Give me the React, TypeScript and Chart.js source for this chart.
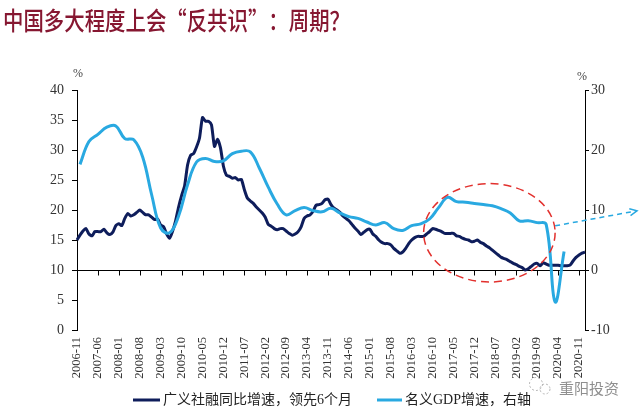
import React, { useEffect, useRef } from 'react';
import { Chart, registerables } from 'chart.js';

Chart.register(...registerables);

// ---------- data ----------
const TITLE = '中国多大程度上会“反共识”：周期？';
const SERIES_NAMES = ['广义社融同比增速，领先6个月', '名义GDP增速，右轴'];
const WATERMARK = '重阳投资';

// monthly categories 2006-11 .. 2021-01
const START_YEAR = 2006;
const START_MONTH = 11;
const MONTH_COUNT = 171;
const months: string[] = [];
for (let i = 0; i < MONTH_COUNT; i++) {
  const t = START_MONTH - 1 + i;
  const yy = START_YEAR + Math.floor(t / 12);
  const mm = (t % 12) + 1;
  months.push(`${yy}-${String(mm).padStart(2, '0')}`);
}

const tickLabels = [
  '2006-11', '2007-06', '2008-01', '2008-08', '2009-03', '2009-10', '2010-05',
  '2010-12', '2011-07', '2012-02', '2012-09', '2013-04', '2013-11', '2014-06',
  '2015-01', '2015-08', '2016-03', '2016-10', '2017-05', '2017-12', '2018-07',
  '2019-02', '2019-09', '2020-04', '2020-11',
];

// 广义社融同比增速（领先6个月），left axis, monthly from 2006-11
const tsfGrowth = [
  15.0, 15.8, 16.5, 16.9, 16.0, 15.7, 16.4, 16.4, 16.4, 16.8,
  16.2, 15.9, 16.3, 17.4, 17.7, 17.4, 18.6, 19.4, 19.0, 19.2,
  19.6, 20.0, 19.6, 19.2, 19.2, 18.8, 18.4, 18.5, 17.5, 17.2,
  16.0, 15.3, 16.5, 18.2, 20.5, 22.4, 24.0, 27.5, 29.1, 29.4,
  30.5, 32.0, 35.4, 34.8, 34.8, 34.2, 30.6, 31.8, 30.4, 27.3,
  25.8, 25.6, 25.3, 25.4, 25.0, 25.1, 23.4, 22.0, 21.5, 21.1,
  20.5, 20.0, 19.5, 18.8, 17.6, 17.3, 16.9, 16.7, 16.9, 16.9,
  16.5, 16.1, 15.8, 16.0, 16.4, 17.2, 18.6, 19.0, 19.2, 19.8,
  20.8, 20.9, 21.1, 21.7, 21.8, 20.9, 20.3, 20.0, 19.6, 19.0,
  18.6, 18.2, 17.6, 17.0, 16.5, 15.9, 16.3, 16.7, 16.8, 16.0,
  15.6, 15.0, 14.6, 14.4, 14.4, 14.2, 13.6, 13.2, 12.8, 13.0,
  13.6, 14.4, 15.0, 15.4, 15.6, 15.6, 15.6, 16.0, 16.4, 16.9,
  16.8, 16.6, 16.4, 16.1, 16.1, 16.1, 16.1, 15.7, 15.6, 15.3,
  15.1, 15.0, 14.7, 14.8, 15.0, 14.6, 14.4, 14.0, 13.7, 13.3,
  12.9, 12.5, 12.1, 11.9, 11.7, 11.4, 11.1, 10.9, 10.6, 10.4,
  10.0, 10.2, 10.6, 11.0, 11.1, 10.7, 11.2, 11.0, 10.8, 10.8,
  10.8, 10.8, 10.7, 10.7, 10.7, 10.8, 11.5, 12.1, 12.5, 12.8, 13.0,
];

// 名义GDP增速, right axis, quarterly
const gdpMonths = [
  '2006-12', '2007-03', '2007-06', '2007-09', '2007-12', '2008-03', '2008-06',
  '2008-09', '2008-12', '2009-03', '2009-06', '2009-09', '2009-12', '2010-03',
  '2010-06', '2010-09', '2010-12', '2011-03', '2011-06', '2011-09', '2011-12',
  '2012-03', '2012-06', '2012-09', '2012-12', '2013-03', '2013-06', '2013-09',
  '2013-12', '2014-03', '2014-06', '2014-09', '2014-12', '2015-03', '2015-06',
  '2015-09', '2015-12', '2016-03', '2016-06', '2016-09', '2016-12', '2017-03',
  '2017-06', '2017-09', '2017-12', '2018-03', '2018-06', '2018-09', '2018-12',
  '2019-03', '2019-06', '2019-09', '2019-12', '2020-03', '2020-06',
];
const gdpGrowth = [
  17.6, 21.4, 22.6, 23.8, 24.0, 21.9, 21.7,
  18.8, 12.5, 7.0, 6.2, 9.0, 14.2, 18.0,
  18.6, 18.1, 18.2, 19.4, 19.8, 19.7, 17.0,
  13.8, 11.0, 9.2, 9.9, 10.4, 9.9, 9.7,
  10.3, 9.5, 8.9, 8.6, 8.0, 7.5, 7.9,
  6.9, 6.6, 7.4, 7.7, 8.5, 10.4, 12.1,
  11.4, 11.3, 11.1, 10.9, 10.7, 10.2, 9.5,
  8.2, 8.2, 7.9, 7.6, -5.3, 3.1,
];

// annotation (data coordinates)
const circleCenterMonth = '2018-05';
const circleCenterValue = 16.2; // left axis
const circleHalfWidthMonths = 22;
const circleHalfHeightValue = 8.2;

const DARK = '#0E1D5B';
const LIGHT = '#29A9E1';
const SERIF = '"Liberation Serif", "Noto Sans CJK SC", serif';
const CJK = '"Noto Sans CJK SC", sans-serif';

const decorPlugin = {
  id: 'decor',
  beforeDatasetsDraw(chart: any) {
    const { ctx, chartArea, scales } = chart;
    const x = scales.x;
    const y = scales.y;
    const by = Math.round(y.getPixelForValue(10)) + 0.5;
    ctx.save();
    ctx.strokeStyle = '#000';
    ctx.lineWidth = 1;
    ctx.beginPath();
    ctx.moveTo(chartArea.left, by);
    ctx.lineTo(chartArea.right, by);
    months.forEach((m, i) => {
      if (i > 0 && tickLabels.includes(m)) {
        const px = Math.round(x.getPixelForValue(i)) + 0.5;
        ctx.moveTo(px, by);
        ctx.lineTo(px, by + 5);
      }
    });
    ctx.stroke();
    ctx.restore();
  },
  afterDraw(chart: any) {
    const { ctx, chartArea, scales } = chart;
    const x = scales.x;
    const y = scales.y;
    ctx.save();

    // title (condensed horizontally to match reference width)
    ctx.save();
    ctx.fillStyle = '#861731';
    ctx.font = `500 25px ${CJK}`;
    ctx.textAlign = 'left';
    ctx.textBaseline = 'middle';
    const tw = ctx.measureText(TITLE).width;
    const sxScale = Math.min(1, 347 / tw);
    ctx.translate(3, 20);
    ctx.scale(sxScale, 1);
    ctx.fillText(TITLE, 0, 0);
    ctx.restore();

    // unit labels
    ctx.fillStyle = '#444';
    ctx.font = `12px ${SERIF}`;
    ctx.textAlign = 'center';
    ctx.textBaseline = 'middle';
    ctx.fillText('%', chartArea.left + 1, 74);
    ctx.fillText('%', chartArea.right - 3, 77);

    // dashed ellipse
    const ci = months.indexOf(circleCenterMonth);
    const cx = x.getPixelForValue(ci);
    const cy = y.getPixelForValue(circleCenterValue);
    const rx = x.getPixelForValue(ci + circleHalfWidthMonths) - cx;
    const ry = y.getPixelForValue(circleCenterValue - circleHalfHeightValue) - cy;
    ctx.strokeStyle = '#E2302D';
    ctx.lineWidth = 1.5;
    ctx.setLineDash([8, 5]);
    ctx.beginPath();
    ctx.ellipse(cx, cy, rx, ry, 0, 0, Math.PI * 2);
    ctx.stroke();

    // dashed arrow
    const sx = cx + rx;
    const sy = cy - 7;
    const ex = chart.width - 3;
    const ey = sy - 15;
    ctx.strokeStyle = LIGHT;
    ctx.lineWidth = 1.5;
    ctx.setLineDash([5, 4]);
    ctx.beginPath();
    ctx.moveTo(sx, sy);
    ctx.lineTo(ex, ey);
    ctx.stroke();
    ctx.setLineDash([]);
    const ang = Math.atan2(ey - sy, ex - sx);
    ctx.beginPath();
    ctx.moveTo(ex - 8 * Math.cos(ang - 0.45), ey - 8 * Math.sin(ang - 0.45));
    ctx.lineTo(ex, ey);
    ctx.lineTo(ex - 8 * Math.cos(ang + 0.45), ey - 8 * Math.sin(ang + 0.45));
    ctx.stroke();

    // legend
    const ly = 400;
    ctx.lineWidth = 3;
    ctx.strokeStyle = DARK;
    ctx.beginPath();
    ctx.moveTo(133, ly);
    ctx.lineTo(160, ly);
    ctx.stroke();
    ctx.strokeStyle = LIGHT;
    ctx.beginPath();
    ctx.moveTo(377, ly);
    ctx.lineTo(402, ly);
    ctx.stroke();
    ctx.fillStyle = '#222';
    ctx.font = `14px ${SERIF}`;
    ctx.textAlign = 'left';
    ctx.textBaseline = 'middle';
    ctx.fillText(SERIES_NAMES[0], 163, ly);
    ctx.fillText(SERIES_NAMES[1], 405, ly);

    // watermark
    ctx.strokeStyle = '#b5b5b5';
    ctx.lineWidth = 1;
    ctx.setLineDash([2, 2]);
    ctx.beginPath();
    ctx.arc(536, 384, 6.5, 0, Math.PI * 2);
    ctx.stroke();
    ctx.beginPath();
    ctx.arc(545, 389, 5, 0, Math.PI * 2);
    ctx.stroke();
    ctx.setLineDash([]);
    ctx.fillStyle = '#8f8f8f';
    ctx.font = `15px ${CJK}`;
    ctx.fillText(WATERMARK, 559, 388);

    ctx.restore();
  },
};

export default function App() {
  const canvasRef = useRef<HTMLCanvasElement | null>(null);

  useEffect(() => {
    const canvas = canvasRef.current;
    if (!canvas) return;
    const tickFont = { family: SERIF, size: 14 };
    const chart = new Chart(canvas, {
      type: 'line',
      data: {
        labels: months,
        datasets: [
          {
            label: SERIES_NAMES[1],
            data: gdpMonths.map((m, i) => ({ x: m, y: gdpGrowth[i] })) as any,
            yAxisID: 'y1',
            borderColor: LIGHT,
            backgroundColor: LIGHT,
            borderWidth: 3,
            pointRadius: 0,
            tension: 0.4,
          },
          {
            label: SERIES_NAMES[0],
            data: tsfGrowth,
            yAxisID: 'y',
            borderColor: DARK,
            backgroundColor: DARK,
            borderWidth: 3,
            pointRadius: 0,
            tension: 0.2,
          },
        ],
      },
      options: {
        responsive: false,
        animation: false,
        devicePixelRatio: 1,
        layout: { padding: { top: 90, left: 0, right: 0, bottom: 0 } },
        plugins: {
          legend: { display: false },
          tooltip: { enabled: false },
          title: { display: false },
        },
        scales: {
          x: {
            type: 'category',
            offset: false,
            grid: { display: false, drawTicks: false },
            border: { display: false },
            ticks: {
              autoSkip: false,
              maxRotation: 90,
              minRotation: 90,
              padding: 7,
              color: '#333',
              font: { family: SERIF, size: 12.5 },
              callback: (_v: any, i: number) =>
                tickLabels.includes(months[i]) ? months[i] : '',
            },
            afterFit: (s: any) => {
              s.height = 87;
            },
          },
          y: {
            type: 'linear',
            position: 'left',
            min: 0,
            max: 40,
            grid: { drawOnChartArea: false, drawTicks: true, tickLength: 5, color: '#000' },
            border: { display: true, color: '#000', width: 1 },
            ticks: { stepSize: 5, padding: 8, color: '#333', font: tickFont },
            afterFit: (s: any) => {
              s.width = 77;
            },
          },
          y1: {
            type: 'linear',
            position: 'right',
            min: -10,
            max: 30,
            grid: { drawOnChartArea: false, drawTicks: true, tickLength: 4, color: '#000' },
            border: { display: true, color: '#000', width: 1 },
            ticks: { stepSize: 10, padding: 2, color: '#333', font: tickFont },
            afterFit: (s: any) => {
              s.width = 55;
            },
          },
        },
      } as any,
      plugins: [decorPlugin],
    });
    return () => chart.destroy();
  }, []);

  return (
    <div
      style={{
        position: 'fixed',
        left: 0,
        top: 0,
        width: 640,
        height: 417,
        background: '#fff',
      }}
    >
      <canvas ref={canvasRef} width={640} height={417} style={{ width: 640, height: 417, display: 'block' }} />
    </div>
  );
}
